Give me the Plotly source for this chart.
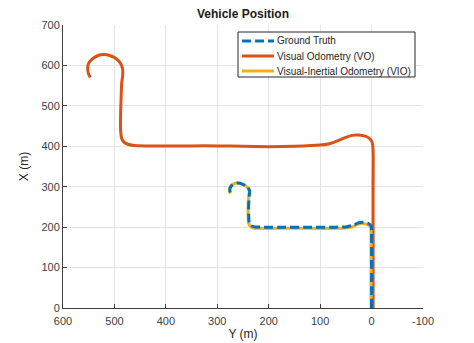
import plotly.graph_objects as go

# Ground Truth (Y, X) in metres
gt_y = [0, 0, 0, 0, 0, 1, 6, 15, 25, 35, 48, 70, 120, 170, 210, 228, 235, 238, 239, 239, 238, 237, 241, 250, 261, 270, 275, 275, 273]
gt_x = [0, 50, 100, 150, 190, 203, 209, 212, 211, 205, 201, 200, 200, 200, 200, 201, 204, 212, 230, 255, 275, 289, 299, 306, 309, 305, 297, 288, 283]

# Visual Odometry (VO)
vo_y = [-3, -3, -3, -3, -3, -1, 3, 12, 25, 38, 50, 65, 80, 100, 150, 200, 250, 300, 350, 400, 440, 462, 474, 482, 486, 488, 488, 487, 486, 484, 484, 488, 496, 508, 520, 533, 544, 551, 552, 550, 547]
vo_x = [0, 100, 200, 300, 390, 410, 418, 425, 428, 427, 422, 414, 407, 403, 400, 399, 400, 401, 401, 401, 401, 402, 405, 411, 420, 440, 480, 520, 555, 575, 590, 605, 616, 624, 627, 624, 615, 603, 590, 578, 570]

# Visual-Inertial Odometry (VIO)
vio_y = [1, 1, 1, 1, 1, 2, 8, 17, 27, 37, 50, 70, 120, 170, 210, 230, 236, 239, 240, 240, 239, 238, 242, 251, 262, 271, 276, 276, 274]
vio_x = [0, 50, 100, 150, 190, 201, 206, 209, 207, 201, 198, 197, 197, 197, 197, 198, 202, 210, 230, 255, 275, 289, 299, 306, 309, 305, 297, 288, 283]

x_ticks = [600, 500, 400, 300, 200, 100, 0, -100]
y_ticks = [0, 100, 200, 300, 400, 500, 600, 700]

series_names = ["Ground Truth", "Visual Odometry (VO)", "Visual-Inertial Odometry (VIO)"]

BLUE = "#0072BD"
ORANGE = "#D95319"
YELLOW = "#EDB120"
AX = "#404040"
FONT = "Liberation Sans, Arial, sans-serif"
GT_DASH = "9px,4px"

W, H = 474, 343
L, R, T, B = 63, 51, 25, 35
PW, PH = W - L - R, H - T - B


def px(xp):
    return (xp - L) / PW


def py(yp):
    return (H - B - yp) / PH


fig = go.Figure()
fig.add_trace(go.Scatter(x=vo_y, y=vo_x, mode="lines", name=series_names[1],
                         line=dict(color=ORANGE, width=3, shape="spline", smoothing=0.6)))
fig.add_trace(go.Scatter(x=vio_y, y=vio_x, mode="lines", name=series_names[2],
                         line=dict(color=YELLOW, width=3, shape="spline", smoothing=0.6)))
fig.add_trace(go.Scatter(x=gt_y, y=gt_x, mode="lines", name=series_names[0],
                         line=dict(color=BLUE, width=3, dash=GT_DASH, shape="spline", smoothing=0.6)))

# Legend drawn as a boxed key (MATLAB style, compact rows)
shapes = [dict(type="rect", xref="paper", yref="paper", x0=px(238), x1=px(415), y0=py(77), y1=py(32),
               line=dict(color="#262626", width=1), fillcolor="white", layer="above")]
annotations = []
rows = [41, 56, 71]
colors = [BLUE, ORANGE, YELLOW]
dashes = [GT_DASH, "solid", "solid"]
for name, c, d, ry in zip(series_names, colors, dashes, rows):
    shapes.append(dict(type="line", xref="paper", yref="paper", x0=px(242), x1=px(274), y0=py(ry), y1=py(ry),
                       line=dict(color=c, width=3, dash=d), layer="above"))
    annotations.append(dict(text=name, xref="paper", yref="paper", x=px(275), y=py(ry), xanchor="left",
                            yanchor="middle", showarrow=False, font=dict(size=10, color="#262626")))

fig.update_layout(
    width=W, height=H,
    margin=dict(l=L, r=R, t=T, b=B),
    paper_bgcolor="white", plot_bgcolor="white",
    font=dict(family=FONT, size=11, color=AX),
    title=dict(text="<b>Vehicle Position</b>", x=(L + PW / 2) / W, xanchor="center",
               y=1 - 14 / H, yanchor="middle", font=dict(size=12, color="#1a1a1a")),
    showlegend=False,
    shapes=shapes,
    annotations=annotations,
)
fig.update_xaxes(range=[600, -100], tickvals=x_ticks, ticktext=[str(v) for v in x_ticks],
                 showgrid=True, gridcolor="#E3E3E3", gridwidth=1, zeroline=False,
                 showline=True, linecolor=AX, linewidth=1, mirror=False,
                 ticks="inside", ticklen=4, tickcolor=AX, automargin=False, ticklabelstandoff=3,
                 title=dict(text="Y (m)", font=dict(size=12, color="#262626"), standoff=3))
fig.update_yaxes(range=[0, 700], tickvals=y_ticks, ticktext=[str(v) for v in y_ticks],
                 showgrid=True, gridcolor="#E3E3E3", gridwidth=1, zeroline=False,
                 showline=True, linecolor=AX, linewidth=1, mirror=False,
                 ticks="inside", ticklen=4, tickcolor=AX, automargin=False,
                 title=dict(text="X (m)", font=dict(size=12, color="#262626"), standoff=10))

fig.write_html("out.html")
